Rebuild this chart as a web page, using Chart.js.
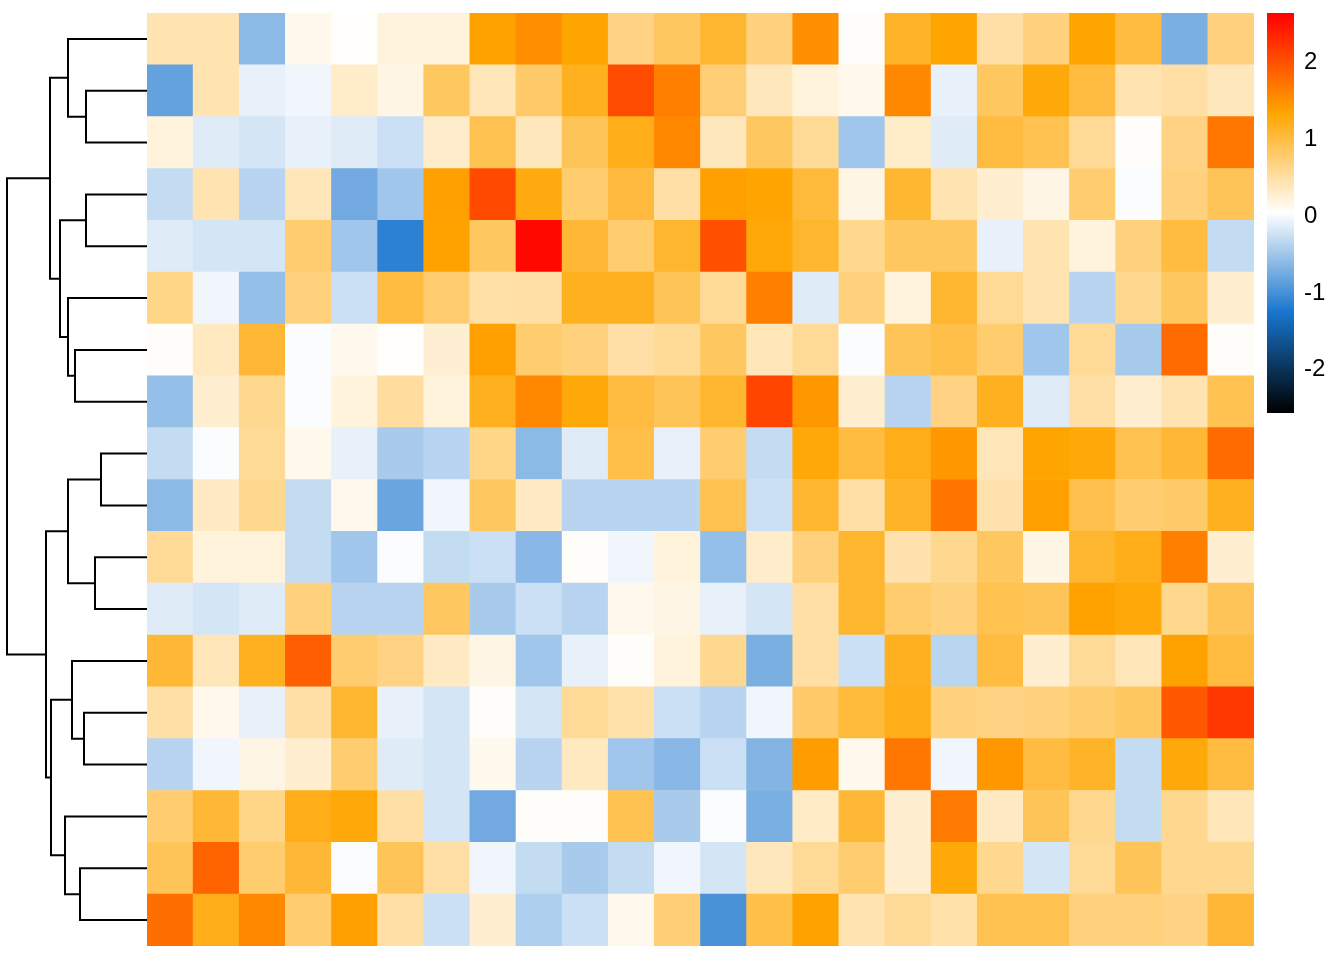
<!DOCTYPE html>
<html>
<head>
<meta charset="utf-8">
<script src="https://cdn.jsdelivr.net/npm/chart.js@4.4.1/dist/chart.umd.min.js"></script>
<style>
  html, body { margin: 0; padding: 0; background: #fff; }
  body { width: 1344px; height: 960px; position: relative; overflow: hidden; }
  .box { position: absolute; }
  #treeBox { left: 0; top: 13px; width: 147px; height: 933px; }
  #heatBox { left: 147px; top: 13px; width: 1107px; height: 933px; }
  #legendBox { left: 1267px; top: 13px; width: 77px; height: 400px; }
</style>
</head>
<body>
<div class="box" id="treeBox"><canvas id="tree"></canvas></div>
<div class="box" id="heatBox"><canvas id="heat"></canvas></div>
<div class="box" id="legendBox"><canvas id="legend"></canvas></div>
<script>
// rows top to bottom, 24 columns each
const row1  = [0.40, 0.40, -0.65, 0.10, 0.02, 0.18, 0.18, 1.32, 1.47, 1.30, 0.63, 0.81, 1.06, 0.67, 1.47, 0.03, 1.10, 1.30, 0.46, 0.67, 1.30, 0.97, -0.75, 0.67];
const row2  = [-0.87, 0.40, -0.13, -0.08, 0.28, 0.14, 0.81, 0.36, 0.76, 1.14, 2.00, 1.60, 0.71, 0.34, 0.18, 0.09, 1.53, -0.13, 0.81, 1.25, 0.97, 0.40, 0.46, 0.34];
const row3  = [0.18, -0.18, -0.24, -0.13, -0.18, -0.29, 0.27, 0.89, 0.34, 0.85, 1.18, 1.53, 0.34, 0.81, 0.53, -0.53, 0.28, -0.18, 0.97, 0.89, 0.53, 0.03, 0.63, 1.66];
const row4  = [-0.33, 0.40, -0.40, 0.36, -0.80, -0.53, 1.34, 2.02, 1.22, 0.74, 0.99, 0.46, 1.34, 1.31, 1.00, 0.14, 1.05, 0.40, 0.24, 0.14, 0.74, -0.03, 0.67, 0.85];
const row5  = [-0.18, -0.24, -0.24, 0.73, -0.53, -1.18, 1.32, 0.81, 2.54, 1.03, 0.74, 1.06, 1.97, 1.26, 1.06, 0.57, 0.81, 0.81, -0.13, 0.40, 0.18, 0.67, 0.97, -0.33];
const row6  = [0.61, -0.08, -0.60, 0.67, -0.29, 0.97, 0.73, 0.45, 0.46, 1.14, 1.14, 0.85, 0.53, 1.60, -0.18, 0.67, 0.18, 1.05, 0.53, 0.40, -0.40, 0.57, 0.81, 0.24];
const row7  = [0.03, 0.32, 1.03, -0.03, 0.09, 0.02, 0.23, 1.34, 0.74, 0.67, 0.46, 0.53, 0.81, 0.36, 0.53, -0.03, 0.85, 0.93, 0.74, -0.53, 0.53, -0.49, 1.76, 0.03];
const row8  = [-0.60, 0.24, 0.57, -0.03, 0.18, 0.49, 0.18, 1.14, 1.53, 1.25, 0.97, 0.85, 1.06, 2.06, 1.40, 0.24, -0.40, 0.63, 1.14, -0.18, 0.46, 0.24, 0.40, 0.89];
const row9  = [-0.33, -0.03, 0.53, 0.09, -0.13, -0.49, -0.40, 0.61, -0.65, -0.18, 0.93, -0.13, 0.73, -0.33, 1.26, 0.97, 1.18, 1.40, 0.36, 1.30, 1.25, 0.89, 1.03, 1.76];
const row10 = [-0.65, 0.30, 0.57, -0.33, 0.09, -0.84, -0.08, 0.81, 0.30, -0.40, -0.40, -0.40, 0.89, -0.29, 1.06, 0.46, 1.10, 1.68, 0.42, 1.34, 0.91, 0.73, 0.76, 1.14];
const row11 = [0.53, 0.18, 0.18, -0.33, -0.53, -0.03, -0.33, -0.29, -0.66, 0.03, -0.08, 0.18, -0.60, 0.27, 0.67, 1.06, 0.42, 0.57, 0.81, 0.14, 1.06, 1.18, 1.60, 0.24];
const row12 = [-0.18, -0.24, -0.18, 0.67, -0.40, -0.40, 0.81, -0.49, -0.29, -0.40, 0.09, 0.14, -0.13, -0.24, 0.46, 1.06, 0.74, 0.67, 0.89, 0.85, 1.32, 1.25, 0.57, 0.85];
const row13 = [1.03, 0.36, 1.14, 1.85, 0.73, 0.63, 0.30, 0.14, -0.53, -0.13, 0.03, 0.18, 0.57, -0.75, 0.46, -0.29, 1.14, -0.39, 0.97, 0.24, 0.53, 0.36, 1.32, 0.97];
const row14 = [0.46, 0.09, -0.13, 0.46, 1.06, -0.13, -0.24, 0.03, -0.24, 0.53, 0.44, -0.29, -0.40, -0.08, 0.76, 1.00, 1.18, 0.67, 0.63, 0.67, 0.73, 0.81, 1.91, 2.17];
const row15 = [-0.40, -0.08, 0.14, 0.24, 0.73, -0.18, -0.24, 0.09, -0.40, 0.32, -0.53, -0.66, -0.29, -0.70, 1.37, 0.09, 1.66, -0.08, 1.40, 0.97, 1.10, -0.33, 1.25, 0.97];
const row16 = [0.73, 1.03, 0.61, 1.18, 1.25, 0.46, -0.24, -0.80, 0.03, 0.03, 0.89, -0.49, -0.03, -0.75, 0.29, 1.03, 0.24, 1.64, 0.30, 0.85, 0.57, -0.33, 0.57, 0.36];
const row17 = [0.85, 1.81, 0.74, 1.03, -0.03, 0.85, 0.46, -0.08, -0.33, -0.49, -0.33, -0.08, -0.24, 0.34, 0.53, 0.73, 0.24, 1.25, 0.57, -0.24, 0.53, 0.85, 0.57, 0.57];
const row18 = [1.73, 1.18, 1.53, 0.73, 1.34, 0.46, -0.29, 0.24, -0.45, -0.29, 0.09, 0.71, -1.02, 0.93, 1.32, 0.40, 0.53, 0.44, 0.89, 0.89, 0.67, 0.67, 0.63, 1.03];
const rows = [row1, row2, row3, row4, row5, row6, row7, row8, row9, row10, row11, row12, row13, row14, row15, row16, row17, row18];

const colLabels = Array.from({ length: 24 }, (_, i) => 'C' + (i + 1));

// dendrogram merges (negative = leaf row, positive = earlier merge), heights
const mergePairs = [
  [-2, -3], [-4, -5], [-7, -8], [-6, 3], [2, 4], [-1, 1], [6, 5],
  [-9, -10], [-11, -12], [8, 9], [-14, -15], [-13, 11], [-17, -18],
  [-16, 13], [12, 14], [10, 15], [7, 16],
];
const mergeHeights = [61, 61, 72, 79, 87, 79, 97, 46, 52, 79, 63, 75, 67, 82, 96, 101, 140];

// colour scale
const colorBreaks = [-2.6, -1.3, 0, 1.3, 2.6];
const colorStops = [[0, 0, 0], [24, 116, 205], [255, 255, 255], [255, 165, 0], [255, 0, 0]];
const legendTicks = [-2, -1, 0, 1, 2];

const valueColor = (v) => {
  v = Math.max(colorBreaks[0], Math.min(colorBreaks[4], v));
  let k = 0;
  while (k < 3 && v > colorBreaks[k + 1]) k++;
  const t = (v - colorBreaks[k]) / (colorBreaks[k + 1] - colorBreaks[k]);
  const a = colorStops[k], b = colorStops[k + 1];
  const c = a.map((x, i) => Math.round(x + (b[i] - x) * t));
  return `rgb(${c[0]},${c[1]},${c[2]})`;
};

Chart.defaults.font.family = '"Liberation Sans", Arial, sans-serif';
Chart.defaults.animation = false;

// heatmap: stacked unit bars, bottom row first
const heatSets = rows.slice().reverse().map((r, i) => ({
  label: 'row' + (rows.length - i),
  data: r.map(() => 1),
  backgroundColor: r.map(valueColor),
  borderWidth: 0,
  barPercentage: 1,
  categoryPercentage: 1,
}));

new Chart(document.getElementById('heat'), {
  type: 'bar',
  data: { labels: colLabels, datasets: heatSets },
  options: {
    responsive: true,
    maintainAspectRatio: false,
    layout: { padding: 0 },
    plugins: { legend: { display: false }, tooltip: { enabled: false } },
    scales: {
      x: { display: false, stacked: true },
      y: { display: false, stacked: true, min: 0, max: rows.length },
    },
  },
});

// dendrogram
const nodes = [];
const nodeAt = (id) => (id < 0 ? { y: -id - 0.5, h: 0 } : nodes[id - 1]);
const treeSets = mergePairs.map(([a, b], k) => {
  const A = nodeAt(a), B = nodeAt(b), h = mergeHeights[k];
  nodes.push({ y: (A.y + B.y) / 2, h });
  return {
    data: [{ x: A.h, y: A.y }, { x: h, y: A.y }, { x: h, y: B.y }, { x: B.h, y: B.y }],
    showLine: true,
    borderColor: '#000',
    borderWidth: 2,
    pointRadius: 0,
    clip: false,
  };
});

new Chart(document.getElementById('tree'), {
  type: 'scatter',
  data: { datasets: treeSets },
  options: {
    responsive: true,
    maintainAspectRatio: false,
    layout: { padding: 0 },
    plugins: { legend: { display: false }, tooltip: { enabled: false } },
    scales: {
      x: { display: false, min: 0, max: 147, reverse: true },
      y: { display: false, min: 0, max: rows.length, reverse: true },
    },
  },
});

// colour key
new Chart(document.getElementById('legend'), {
  type: 'bar',
  data: {
    labels: ['key'],
    datasets: [{
      data: [[colorBreaks[0], colorBreaks[4]]],
      borderWidth: 0,
      barPercentage: 1,
      categoryPercentage: 1,
      backgroundColor: (c) => {
        const chart = c.chart;
        if (!chart.chartArea) return '#fff';
        const y = chart.scales.y;
        const g = chart.ctx.createLinearGradient(0, y.getPixelForValue(colorBreaks[0]), 0, y.getPixelForValue(colorBreaks[4]));
        colorBreaks.forEach((b, i) => g.addColorStop(i / 4, valueColor(b)));
        return g;
      },
    }],
  },
  options: {
    responsive: true,
    maintainAspectRatio: false,
    layout: { padding: 0 },
    plugins: { legend: { display: false }, tooltip: { enabled: false } },
    scales: {
      x: { display: false },
      y: {
        position: 'right',
        min: colorBreaks[0],
        max: colorBreaks[4],
        grid: { display: false, drawTicks: false },
        border: { display: false },
        ticks: {
          includeBounds: false,
          stepSize: 1,
          padding: 10,
          labelOffset: 3,
          color: '#000',
          font: { size: 24 },
          callback: (v) => (legendTicks.includes(v) ? String(v) : ''),
        },
        afterFit: (s) => { s.width = 50; s.paddingTop = 0; s.paddingBottom = 0; },
      },
    },
  },
});
</script>
</body>
</html>
